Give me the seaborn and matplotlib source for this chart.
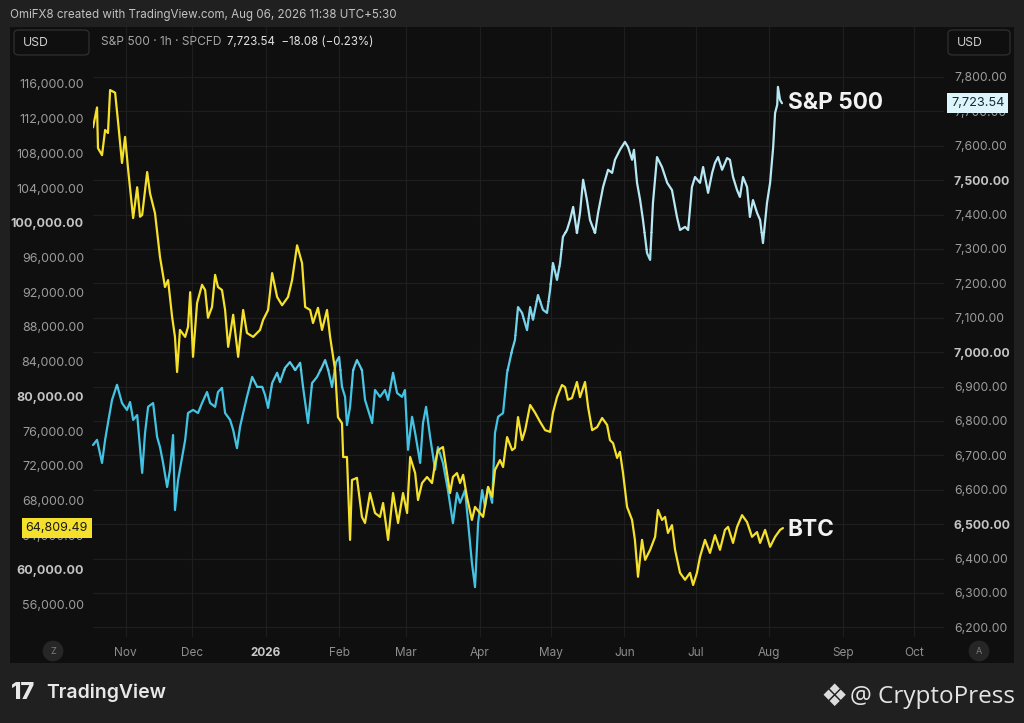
import numpy as np
import pandas as pd
import matplotlib
matplotlib.use("Agg")
import matplotlib.pyplot as plt
import matplotlib.transforms as mtransforms
from matplotlib.patches import Rectangle, FancyBboxPatch
from matplotlib.colors import to_rgb
import seaborn as sns

# ---------------- data ----------------
ref_date = "2025-12-01"   # day offsets below are counted from this date

btc_day = [-41.7, -40.0, -39.6, -37.9, -36.6, -35.4, -34.5, -32.4, -31.1, -29.5,
           -28.2, -26.9, -24.8, -23.1, -21.9, -21.0, -18.9, -17.7, -15.6, -13.5,
           -11.4, -10.1, -8.4, -7.2, -6.3, -5.1, -2.9, -1.7, -0.8, 0.4,
           2.1, 4.2, 5.5, 6.7, 8.4, 9.7, 10.9, 12.6, 13.9, 15.2,
           17.3, 19.4, 21.5, 23.1, 25.7, 28.6, 29.9, 32.0, 33.7, 35.8,
           37.9, 40.4, 42.1, 44.2, 46.3, 47.6, 49.7, 50.9, 53.0, 54.7,
           56.8, 58.1, 60.2, 61.4, 63.1, 63.6, 65.2, 66.5, 67.3, 69.4,
           71.5, 72.8, 74.9, 77.0, 79.1, 80.4, 82.5, 84.6, 86.7, 88.8,
           90.5, 91.8, 93.9, 95.1, 96.8, 98.9, 101.0, 102.3, 103.5, 105.6,
           107.3, 108.6, 109.8, 111.5, 112.8, 114.1, 115.7, 117.8, 119.1, 121.2,
           122.5, 124.6, 126.3, 127.5, 129.6, 130.9, 132.6, 134.7, 135.9, 137.2,
           138.9, 140.2, 142.3, 144.4, 146.5, 148.6, 150.7, 151.9, 153.6, 155.7,
           157.0, 158.2, 159.9, 162.0, 163.3, 165.4, 166.7, 168.4, 170.5, 172.6,
           174.7, 175.9, 177.2, 178.9, 180.1, 181.4, 183.1, 185.2, 186.4, 187.7,
           189.4, 190.7, 192.8, 194.9, 196.1, 197.8, 199.1, 200.3, 202.0, 203.3,
           205.4, 207.5, 209.6, 210.9, 212.5, 213.8, 215.9, 218.0, 220.1, 222.2,
           224.3, 225.6, 227.7, 229.4, 231.5, 233.6, 235.7, 237.8, 239.1, 241.2,
           243.3, 245.4, 247.5, 248.7]

btc_price = [111000, 113300, 108600, 107800, 110700, 110350, 115300, 115000, 111500, 106900,
             109900, 106100, 100550, 104100, 100700, 100900, 105850, 103400, 101100, 96050,
             92600, 93400, 89150, 86850, 82800, 87650, 86850, 88000, 92000, 84550,
             90750, 92850, 92250, 89050, 90300, 94000, 92600, 92250, 89950, 85700,
             89400, 84550, 89950, 87300, 86850, 87650, 88800, 89950, 94200, 91450,
             90500, 91450, 93400, 97400, 95350, 90300, 89950, 88450, 90200, 87650,
             89950, 86850, 83050, 77600, 76900, 73000, 73000, 63450, 70350, 70600,
             66100, 65400, 68850, 66550, 66100, 67700, 63450, 68850, 65400, 68850,
             66550, 73000, 71150, 68050, 70000, 70700, 70000, 72300, 73800, 74150,
             71150, 68850, 70700, 71150, 70000, 70950, 68400, 65750, 67250, 66550,
             66100, 69550, 68400, 71500, 72650, 71850, 75300, 73800, 74050, 77600,
             74950, 76100, 79000, 78100, 77050, 76100, 75900, 78100, 79900, 81300,
             81050, 79600, 79800, 81650, 79900, 81650, 78750, 76100, 76450, 77500,
             76700, 74950, 74600, 72900, 73600, 71150, 67250, 65750, 63450, 59200,
             63450, 61150, 62300, 63800, 66900, 65750, 66100, 64250, 65150, 62300,
             59650, 58850, 59650, 58250, 59650, 61500, 63450, 61950, 64000, 62300,
             64600, 64950, 63100, 64950, 66300, 65500, 63800, 64350, 63100, 64600,
             62650, 63800, 64600, 64809.49]

spx_day = [-41.7, -40.0, -37.9, -36.6, -35.4, -33.7, -31.6, -29.5, -27.4, -26.1,
           -24.8, -23.1, -21.0, -19.8, -18.5, -16.4, -14.7, -13.5, -12.2, -10.5,
           -9.3, -8.0, -7.2, -5.9, -4.2, -2.9, -1.7, 0.4, 2.5, 4.2,
           6.3, 7.6, 9.7, 10.9, 12.6, 13.9, 16.0, 17.3, 18.9, 20.2,
           21.5, 23.1, 25.3, 27.4, 29.5, 30.7, 32.0, 33.7, 35.8, 37.0,
           39.1, 41.2, 43.4, 45.5, 46.7, 48.8, 50.5, 52.6, 54.7, 56.0,
           57.3, 58.9, 60.6, 61.9, 63.1, 64.4, 65.2, 66.5, 67.8, 69.4,
           71.5, 72.8, 74.1, 75.8, 77.0, 79.1, 81.2, 82.5, 84.6, 86.3,
           88.4, 89.6, 90.9, 92.6, 93.9, 96.0, 97.2, 98.5, 100.2, 102.3,
           103.5, 105.6, 107.7, 109.8, 111.5, 112.8, 114.9, 116.2, 117.8, 119.1,
           120.4, 122.1, 123.3, 124.6, 126.3, 127.5, 128.8, 130.9, 132.6, 134.7,
           135.9, 137.2, 138.9, 141.0, 142.3, 143.5, 145.6, 147.7, 149.4, 150.7,
           151.9, 153.6, 154.9, 156.1, 157.8, 159.1, 160.4, 162.0, 163.3, 164.6,
           166.2, 167.5, 169.6, 170.9, 173.0, 175.1, 176.8, 178.0, 180.1, 182.2,
           183.5, 185.2, 186.0, 187.3, 188.6, 189.8, 191.5, 192.8, 194.0, 195.7,
           197.8, 200.0, 202.0, 204.1, 205.4, 207.5, 208.8, 210.4, 211.7, 213.8,
           215.1, 217.2, 218.9, 220.1, 221.4, 223.1, 225.2, 226.4, 227.7, 229.4,
           230.6, 231.9, 233.6, 234.8, 236.1, 237.8, 239.1, 240.3, 242.0, 243.3,
           244.6, 245.4, 246.3, 246.6, 247.5, 248.3]

spx_price = [6730, 6745, 6678, 6745, 6794, 6861, 6905, 6852, 6832, 6855,
             6803, 6817, 6649, 6765, 6841, 6852, 6753, 6724, 6678, 6608,
             6658, 6759, 6541, 6628, 6695, 6745, 6823, 6832, 6823, 6852,
             6884, 6852, 6841, 6884, 6896, 6823, 6803, 6774, 6721, 6783,
             6823, 6870, 6928, 6899, 6899, 6876, 6838, 6910, 6940, 6913,
             6954, 6971, 6948, 6969, 6899, 6794, 6910, 6928, 6957, 6977,
             6948, 6899, 6971, 6986, 6899, 6870, 6788, 6841, 6948, 6977,
             6948, 6861, 6832, 6794, 6890, 6870, 6890, 6861, 6940, 6881,
             6870, 6890, 6716, 6812, 6765, 6678, 6794, 6841, 6753, 6658,
             6724, 6678, 6599, 6503, 6591, 6562, 6599, 6503, 6387, 6317,
             6503, 6599, 6550, 6608, 6562, 6765, 6812, 6823, 6940, 7006,
             7035, 7131, 7114, 7064, 7131, 7094, 7166, 7123, 7114, 7181,
             7259, 7210, 7259, 7335, 7355, 7384, 7422, 7346, 7405, 7501,
             7442, 7384, 7346, 7405, 7480, 7530, 7521, 7559, 7588, 7611,
             7596, 7559, 7588, 7492, 7442, 7384, 7288, 7268, 7434, 7567,
             7538, 7492, 7471, 7393, 7355, 7364, 7355, 7480, 7509, 7492,
             7538, 7463, 7521, 7550, 7567, 7530, 7564, 7559, 7509, 7471,
             7451, 7509, 7480, 7393, 7442, 7405, 7384, 7317, 7434, 7492,
             7596, 7695, 7719, 7771, 7733, 7723.54]

btc_ticks = list(range(56000, 116001, 4000))
btc_bold = [60000, 80000, 100000]
spx_ticks = list(range(6200, 7801, 100))
spx_bold = [6500, 7000, 7500]
month_starts = ["2025-11-03", "2025-12-01", "2026-01-01", "2026-02-01", "2026-03-01",
                "2026-04-01", "2026-05-01", "2026-06-01", "2026-07-01", "2026-08-01",
                "2026-09-01", "2026-10-01"]
month_labels = ["Nov", "Dec", "2026", "Feb", "Mar", "Apr", "May", "Jun", "Jul",
                "Aug", "Sep", "Oct"]
view_days = (-41.7, 316.5)

# ---------------- styling ----------------
sns.set_theme(style="dark")
plt.rcParams["font.family"] = ["Inter", "DejaVu Sans"]

BG_OUT = "#202020"
BG_PANEL = "#0f0f0f"
GRID = "#1e1e1e"
TICK = "#9c9c9c"
TICK_BOLD = "#c4c4c4"
BTC_COL = "#f5e12c"
SPX_LO = "#42c3e3"
SPX_HI = "#b8e8f4"

W, H = 1024, 723
def fx(px): return px / W
def fy(py): return 1 - py / H

ref = pd.Timestamp(ref_date)
btc_df = pd.DataFrame({"date": ref + pd.to_timedelta(btc_day, unit="D"), "price": btc_price})
spx_df = pd.DataFrame({"date": ref + pd.to_timedelta(spx_day, unit="D"), "price": spx_price})

fig = plt.figure(figsize=(10.24, 7.23), dpi=100, facecolor=BG_OUT)

fig.patches.append(Rectangle((fx(10), fy(663)), fx(1014) - fx(10), fy(27) - fy(663),
                             transform=fig.transFigure, facecolor=BG_PANEL,
                             edgecolor="none", zorder=-5))

ax = fig.add_axes([fx(93), fy(637), fx(944) - fx(93), fy(27) - fy(637)])
ax.set_facecolor("none")
ax2 = ax.twinx()

# ---- S&P 500 (right scale), colour shading by level ----
edges = np.linspace(6900, 7350, 10)
bounds = [6000] + list(edges) + [8300]
c0, c1 = np.array(to_rgb(SPX_LO)), np.array(to_rgb(SPX_HI))
nb = len(bounds) - 1
blend = mtransforms.blended_transform_factory(ax.transAxes, ax.transData)
for i in range(nb):
    col = c0 + (c1 - c0) * (i / (nb - 1))
    sns.lineplot(data=spx_df, x="date", y="price", ax=ax, color=col, lw=1.6,
                 estimator=None, sort=False)
    line = ax.lines[-1]
    lo = bounds[i] - (4 if i > 0 else 0)
    clip = Rectangle((-0.1, lo), 1.2, bounds[i + 1] - lo, transform=blend)
    line.set_clip_path(clip)

# ---- BTC (left scale) ----
sns.lineplot(data=btc_df, x="date", y="price", ax=ax2, color=BTC_COL, lw=1.6,
             estimator=None, sort=False)

# ---- axes ----
x0 = ref + pd.Timedelta(days=view_days[0])
x1 = ref + pd.Timedelta(days=view_days[1])
ax.set_xlim(x0, x1)
ax.set_ylim(6172, 7945)
ax2.set_ylim(52256, 122570)

for a in (ax, ax2):
    a.set_xlabel("")
    a.set_ylabel("")
    for s in a.spines.values():
        s.set_visible(False)

ax.yaxis.set_ticks_position("right")
ax2.yaxis.set_ticks_position("left")
ax2.yaxis.set_label_position("left")

ax.set_yticks(spx_ticks)
ax.set_yticklabels([f"{v:,.2f}" for v in spx_ticks])
ax2.set_yticks(btc_ticks)
ax2.set_yticklabels([f"{v:,.0f}.00" for v in btc_ticks])
ax.set_xticks(pd.to_datetime(month_starts))
ax.set_xticklabels(month_labels)

ax.tick_params(axis="y", length=0, pad=7.2, labelsize=8.8, labelcolor=TICK)
ax2.tick_params(axis="y", length=0, pad=6.5, labelsize=9.0, labelcolor=TICK)
ax.tick_params(axis="x", length=0, pad=7, labelsize=8.5, labelcolor="#8e8e8e")

for lab, v in zip(ax.get_yticklabels(), spx_ticks):
    if v in spx_bold:
        lab.set_fontweight("bold"); lab.set_color(TICK_BOLD)
for lab, v in zip(ax2.get_yticklabels(), btc_ticks):
    if v in btc_bold:
        lab.set_fontweight("bold"); lab.set_color(TICK_BOLD)
for lab in ax.get_xticklabels():
    if lab.get_text() == "2026":
        lab.set_fontweight("bold"); lab.set_color("#c8c8c8")

ax.grid(True, color=GRID, lw=0.9)
ax.set_axisbelow(True)
ax2.grid(False)

# ---- last-value tags ----
blend2 = mtransforms.blended_transform_factory(ax2.transAxes, ax2.transData)
ax2.text((88 - 93) / 851, btc_price[-1], f"{btc_price[-1]:,.2f}", transform=blend2,
         ha="right", va="center", fontsize=9.0, color="#1a1a1a", clip_on=False, zorder=6,
         bbox=dict(boxstyle="square,pad=0.3", fc=BTC_COL, ec="none"))
blend3 = mtransforms.blended_transform_factory(ax.transAxes, ax.transData)
ax.text((951 - 93) / 851, spx_price[-1], f"{spx_price[-1]:,.2f}", transform=blend3,
        ha="left", va="center", fontsize=9.2, color="#1b2a30", clip_on=False, zorder=6,
        bbox=dict(boxstyle="square,pad=0.3", fc="#dcf4fb", ec="none"))

# ---- series name labels ----
ax.annotate("S&P 500", xy=(spx_df["date"].iloc[-1], spx_price[-1]), xytext=(4.5, 0),
            textcoords="offset points", ha="left", va="center", fontsize=16.3,
            fontweight="bold", color="#f2f2f2", zorder=6)
ax2.annotate("BTC", xy=(btc_df["date"].iloc[-1], btc_price[-1]), xytext=(3.5, -1.5),
             textcoords="offset points", ha="left", va="center", fontsize=16.3,
             fontweight="bold", color="#f2f2f2", zorder=6)

# ---- header / chrome ----
fig.text(fx(10), fy(15), "OmiFX8 created with TradingView.com, Aug 06, 2026 11:38 UTC+5:30",
         ha="left", va="center", fontsize=8.35, color="#c2c2c2")

for (l, r) in ((14, 89), (948, 1010)):
    fig.patches.append(FancyBboxPatch((fx(l), fy(55)), fx(r) - fx(l), fy(30) - fy(55),
                                      boxstyle="round,pad=0,rounding_size=0.005",
                                      transform=fig.transFigure, fc=BG_PANEL,
                                      ec="#303030", lw=0.9, zorder=1))
    fig.text(fx(l + 9), fy(42.5), "USD", ha="left", va="center", fontsize=8.8, color="#d0d0d0")

fig.text(fx(101), fy(42), "S&P 500 · 1h · SPCFD", ha="left", va="center",
         fontsize=8.6, color="#a4a4a4")
fig.text(fx(227), fy(42), "7,723.54  −18.08 (−0.23%)", ha="left", va="center",
         fontsize=8.3, color="#e2e2e2")

for (px, ch) in ((53, "Z"), (979, "A")):
    fig.text(fx(px), fy(651), ch, ha="center", va="center", fontsize=6.5, color="#7c7c7c",
             bbox=dict(boxstyle="circle,pad=0.65", fc="#262626", ec="none"))

# ---- footer ----
fig.text(fx(11), fy(693), "17", ha="left", va="center", fontsize=17, fontweight="heavy",
         color="#e8e8e8")
fig.text(fx(46), fy(693), "TradingView", ha="left", va="center", fontsize=14,
         fontweight="semibold", color="#e8e8e8")
fig.text(fx(834), fy(697), "❖", ha="center", va="center", fontsize=22, color="#dcdcdc",
         family=["DejaVu Sans"])
fig.text(fx(1015), fy(697), "@ CryptoPress", ha="right", va="center", fontsize=17.5,
         color="#e4e4e4", family=["Open Sans", "DejaVu Sans"])

fig.savefig("out.png", dpi=100, facecolor=BG_OUT)
